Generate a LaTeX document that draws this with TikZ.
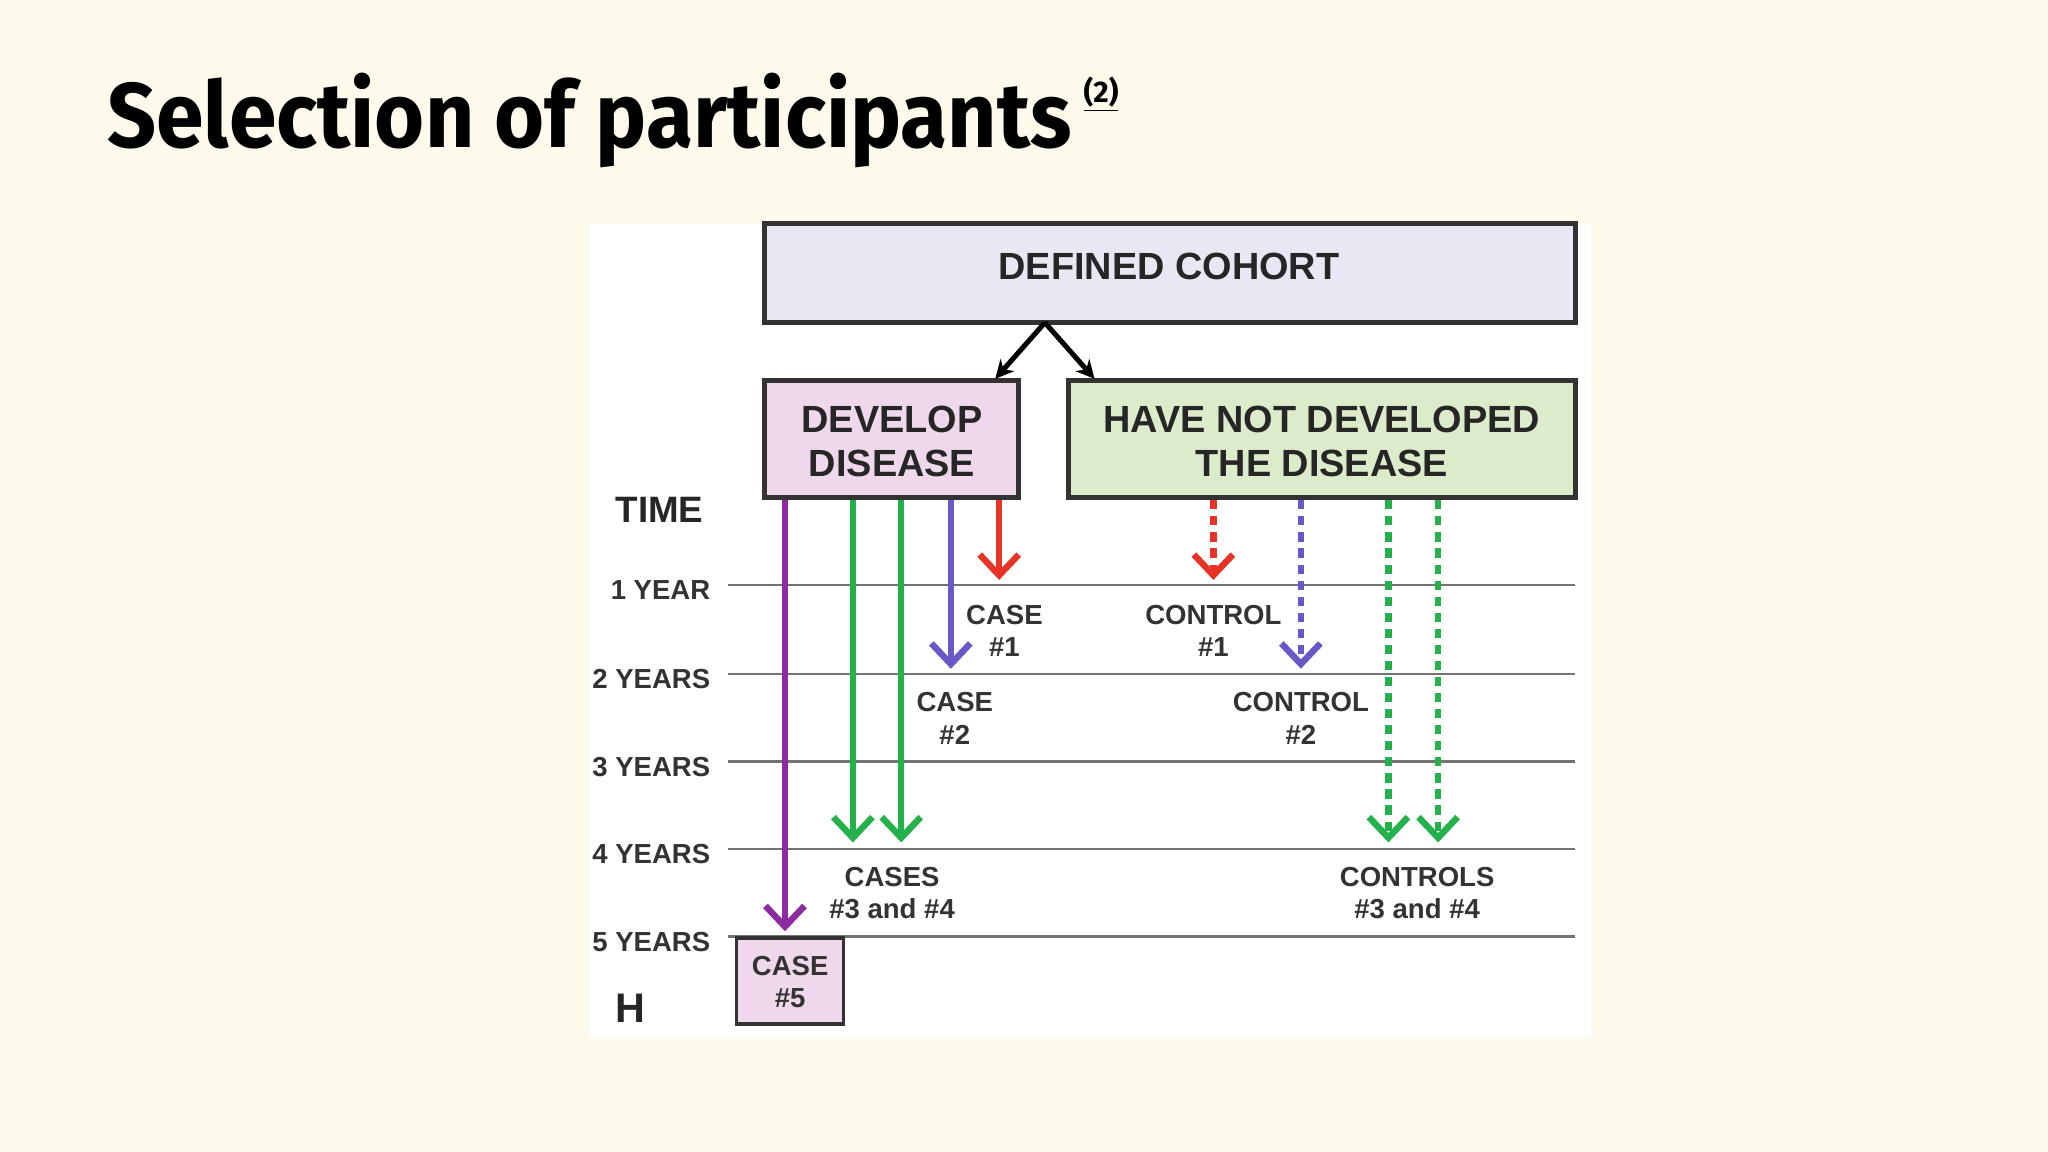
\documentclass[tikz,border=0pt]{standalone}
\usepackage{fontspec}
\setmainfont{Liberation Sans}
\newfontfamily\titlefont{Fira Sans}
\usetikzlibrary{arrows.meta}
\begin{document}
\begin{tikzpicture}[x=0.02cm,y=-0.02cm,
  box/.style={draw=black!80,line width=2.2pt,inner sep=0},
  lbl/.style={font=\fontsize{12}{14}\selectfont\bfseries,text=black!80,align=center},
  yr/.style={font=\fontsize{12}{14}\selectfont\bfseries,text=black!80},
  big/.style={font=\fontsize{16.5}{19}\selectfont\bfseries,text=black!85,align=center},
  arr/.style={line width=2.8pt,-{Straight Barb[length=9pt,width=17pt,line width=2.8pt]}},
  dsh/.style={arr,dash pattern=on 4pt off 3pt},
  grid/.style={draw=black!55,line width=1pt}]
\useasboundingbox[fill={rgb,255:red,253;green,250;blue,235}] (0,0) rectangle (1568,882);
\node[anchor=west,font=\titlefont\bfseries\fontsize{40}{44}\selectfont,xscale=0.935,inner sep=0] (title) at (82,92) {Selection of participants};
\node[font=\titlefont\bfseries\fontsize{13}{15}\selectfont,inner sep=0] (ref) at (843,72) {\underline{(2)}};
\fill[white] (451,171) rectangle (1218,794);
% boxes
\path[box,fill={rgb,255:red,232;green,232;blue,244}] (585,171) rectangle (1206,247);
\node[big] (cohort) at (895,204) {DEFINED COHORT};
\coordinate (top) at (800,247);
\path[box,fill={rgb,255:red,240;green,216;blue,236}] (585,291) rectangle (780,381);
\node[big] (dev) at (683,338) {DEVELOP\\DISEASE};
\path[box,fill={rgb,255:red,220;green,236;blue,202}] (818,291) rectangle (1206,381);
\node[big] (nodev) at (1012,338) {HAVE NOT DEVELOPED\\THE DISEASE};
\coordinate (dl) at (762,290); \coordinate (dr) at (838,290);
\draw[line width=2.2pt,-{Stealth[length=8pt,width=8pt]}] (top) -- (dl);
\draw[line width=2.2pt,-{Stealth[length=8pt,width=8pt]}] (top) -- (dr);
% time lines
\node[font=\fontsize{16}{18}\selectfont\bfseries,text=black!85] (time) at (505,390) {TIME};
\foreach \y/\t [count=\i] in {448/1 YEAR,516/2 YEARS,583/3 YEARS,650/4 YEARS,717/5 YEARS}{
  \draw[grid] (557,\y) coordinate (l\i) -- (1206,\y) coordinate (r\i);
  \node[yr,anchor=east] (y\i) at (550,\y+4) {\t};}
% arrows
\definecolor{pur}{RGB}{142,42,162}
\definecolor{grn}{RGB}{36,176,74}
\definecolor{blu}{RGB}{104,88,200}
\definecolor{rd}{RGB}{232,52,38}
\coordinate (a1) at (601,383); \coordinate (b1) at (601,713);
\coordinate (a2) at (653,383); \coordinate (b2) at (653,645);
\coordinate (a3) at (690,383); \coordinate (b3) at (690,645);
\coordinate (a4) at (728,383); \coordinate (b4) at (728,512);
\coordinate (a5) at (765,383); \coordinate (b5) at (765,444);
\coordinate (a6) at (929,383); \coordinate (b6) at (929,444);
\coordinate (a7) at (996,383); \coordinate (b7) at (996,512);
\coordinate (a8) at (1063,383); \coordinate (b8) at (1063,645);
\coordinate (a9) at (1101,383); \coordinate (b9) at (1101,645);
\draw[arr,pur] (a1) -- (b1);
\draw[arr,grn] (a2) -- (b2);
\draw[arr,grn] (a3) -- (b3);
\draw[arr,blu] (a4) -- (b4);
\draw[arr,rd] (a5) -- (b5);
\draw[dsh,rd] (a6) -- (b6);
\draw[dsh,blu] (a7) -- (b7);
\draw[dsh,grn] (a8) -- (b8);
\draw[dsh,grn] (a9) -- (b9);
% labels
\node[lbl] (c1) at (769,483) {CASE\\\#1};
\node[lbl] (c2) at (731,550) {CASE\\\#2};
\node[lbl] (k1) at (929,483) {CONTROL\\\#1};
\node[lbl] (k2) at (996,550) {CONTROL\\\#2};
\node[lbl] (c34) at (683,684) {CASES\\\#3 and \#4};
\node[lbl] (k34) at (1085,684) {CONTROLS\\\#3 and \#4};
\path[draw=black!80,line width=1.5pt,fill={rgb,255:red,240;green,216;blue,236}] (564,718) rectangle (646,784);
\node[lbl] (c5) at (605,752) {CASE\\\#5};
\node[font=\fontsize{18}{20}\selectfont\bfseries,text=black!85] (h) at (483,772) {H};
\end{tikzpicture}
\end{document}
